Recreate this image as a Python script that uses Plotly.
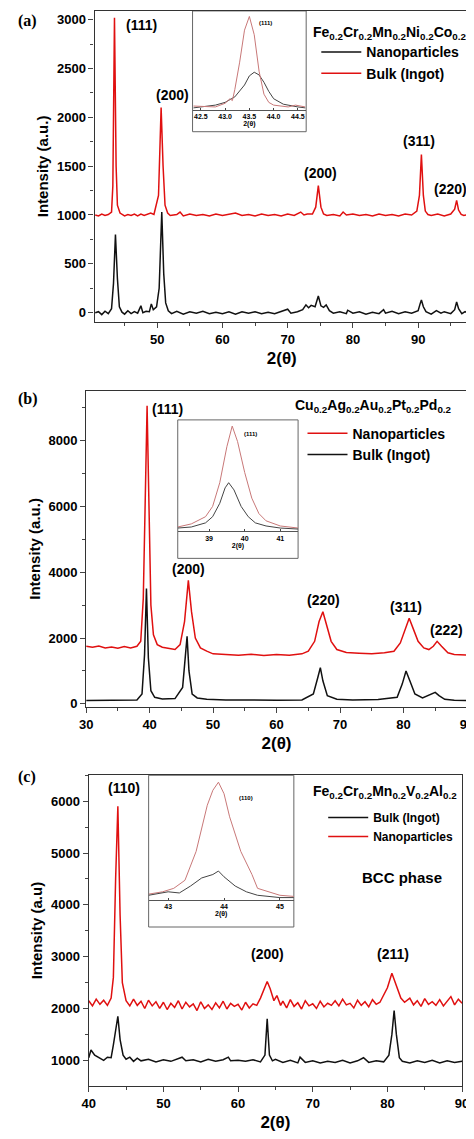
import plotly.graph_objects as go

# ---------- Panel (a) ----------
a_nano_x = [40.5,41,41.5,42,42.5,43,43.3,43.6,43.9,44.2,44.6,45,45.5,46,46.5,47,47.5,47.8,48.3,48.8,49.1,49.4,49.9,50.3,50.7,51.0,51.3,51.7,52.2,53,54,55,56,57,58,59,60,61,62,63,64,65,66,67,68,69,70,70.5,71.5,72.3,72.8,73.2,73.6,74.2,74.7,75.1,75.5,75.9,76.4,77,78,79,79.2,80,81,82,83,84,84.7,85,86,87,88,89,90,90.3,90.5,90.8,91.2,92,92.8,93.5,94,95,95.6,95.9,96.2,96.7,97.2,97.8]
a_nano_y = [0,10,-20,15,-10,40,300,800,350,60,5,-15,20,-10,10,-5,70,0,15,10,90,30,60,250,1030,400,100,20,-10,15,-15,10,-5,15,-10,5,-10,10,-15,10,-5,10,-10,5,-10,10,35,-5,10,30,80,50,75,60,170,70,55,80,20,-5,10,-10,25,-5,10,-15,5,-10,30,-5,15,-10,10,-5,20,90,130,60,10,-15,20,-5,10,-10,30,110,40,-10,10,-5]
a_bulk_x = [40.5,41,41.5,42,42.5,43,43.2,43.45,43.7,43.9,44.3,45,45.5,46,46.5,47,47.5,48,49,49.5,50.2,50.6,50.9,51.2,51.6,52,53,53.5,54,55,56,57,58,59,60,61,62,63,64,65,66,67,68,69,70,71,72,72.5,73,73.8,74.3,74.7,75.1,75.5,76,77,78,78.5,79,80,81,82,83,84,85,86,87,88,89,89.8,90.2,90.5,90.8,91.1,91.5,92,93,94,95,95.6,95.9,96.2,96.6,97,97.8]
a_bulk_y = [1000,990,1010,995,1005,1030,1300,3020,1500,1100,1020,990,1005,995,1010,990,1010,995,1020,1005,1200,2100,1500,1100,1020,995,1005,1030,990,1010,995,1005,990,1010,995,1005,1020,995,1005,990,1010,995,1005,990,1010,995,1030,1000,1010,1010,1080,1300,1080,1010,995,1005,990,1030,1000,1010,995,1005,990,1010,995,1005,990,1010,1000,1040,1200,1620,1200,1040,1005,995,1010,990,1010,1060,1150,1050,1005,995,1005]
a_ins_x_bulk = [42.35,42.8,43.0,43.1,43.15,43.2,43.3,43.4,43.5,43.6,43.7,43.8,43.9,44.0,44.3,44.45,44.65]
a_ins_y_bulk = [2,1,5,10,8,20,50,85,100,80,40,15,6,3,1,3,1]
a_ins_x_nano = [42.35,42.8,43.0,43.2,43.4,43.5,43.6,43.7,43.8,43.9,44.0,44.2,44.5,44.65]
a_ins_y_nano = [0,3,6,12,25,35,39,36,28,18,10,4,1,0]
a_peaks = ["(111)","(200)","(200)","(311)","(220)"]
a_peak_x = [47.6,52.4,75.0,90.2,94.9]
a_peak_y = [2946,2232,1425,1760,1263]

# ---------- Panel (b) ----------
b_nano_x = [30,31,32,33,34,35,36,37,38,38.6,39.0,39.3,39.6,39.9,40.2,40.6,41.2,42,43,44,44.8,45.5,46.1,46.6,47.2,48,49,50,52,54,56,58,60,62,64,65,66,66.7,67.3,67.9,68.6,69.5,71,73,75,77,78.5,79.5,80.3,80.9,81.5,82.3,83.2,84,84.7,85.3,86,87,88,89,90]
b_nano_y = [1750,1720,1760,1700,1730,1690,1740,1700,1750,1900,3200,6500,9050,6000,3000,2100,1800,1720,1680,1650,1800,2500,3750,2800,2000,1700,1600,1520,1500,1480,1510,1470,1500,1480,1520,1600,1900,2500,2800,2400,1900,1650,1560,1540,1520,1550,1600,1850,2300,2600,2300,1900,1700,1650,1750,1900,1750,1550,1500,1480,1480]
b_bulk_x = [30,32,34,36,38,38.8,39.2,39.5,39.8,40.2,40.8,42,44,45.2,45.6,45.9,46.2,46.7,47.5,49,52,56,60,64,65.8,66.5,66.9,67.3,68,69.5,72,76,79,79.8,80.4,81,81.8,83,84.5,85,85.6,86.5,88,90]
b_bulk_y = [100,110,100,110,120,300,1500,3500,1400,400,200,150,160,500,1300,2050,1000,300,180,140,120,110,110,120,300,800,1100,700,250,140,120,130,200,600,1000,700,300,180,300,350,250,140,110,100]
b_ins_x_nano = [38.12,38.5,38.9,39.1,39.3,39.5,39.65,39.8,40.0,40.2,40.4,40.6,41,41.5]
b_ins_y_nano = [2,5,12,22,45,80,100,85,55,30,15,8,3,1]
b_ins_x_bulk = [38.12,38.5,38.9,39.1,39.3,39.45,39.55,39.7,39.9,40.1,40.3,40.6,41,41.5]
b_ins_y_bulk = [1,2,6,12,25,40,45,38,22,12,6,3,1,0]
b_peaks = ["(111)","(200)","(220)","(311)","(222)"]
b_peak_x = [42.75,46.1,67.4,80.4,86.7]
b_peak_y = [8950,4100,3150,2950,2250]

# ---------- Panel (c) ----------
c_nano_x = [40,40.5,41,41.5,42,42.5,43,43.3,43.6,43.9,44.2,44.5,45,45.5,46,46.5,47,47.5,48,48.5,49,49.5,50,50.5,51,51.5,52,52.5,53,53.5,54,54.5,55,55.5,56,56.5,57,57.5,58,58.5,59,59.5,60,60.5,61,61.5,62,62.5,63,63.5,63.9,64.3,64.8,65.2,65.7,66,66.5,67,67.5,68,68.5,69,69.5,70,70.5,71,71.5,72,72.5,73,73.5,74,74.5,75,75.5,76,76.5,77,77.5,78,78.5,79,79.5,80,80.6,81.2,81.8,82.3,83,83.5,84,84.5,85,85.5,86,86.5,87,87.5,88,88.5,89,89.5,90]
c_nano_y = [2150,2050,2180,2080,2160,2060,2200,2600,4500,5900,3800,2500,2150,2050,2180,2060,2140,2000,2160,2050,2130,2000,2120,1980,2100,2020,2150,1990,2120,2030,2090,1960,2130,2000,2070,1980,2110,2010,2140,1990,2100,2040,2080,1970,2120,2010,2090,2060,2200,2380,2520,2380,2150,2250,2060,2140,2010,2170,2040,2110,1990,2150,2050,2090,2000,2140,2030,2100,2060,2150,2050,2180,2070,2100,2010,2160,2060,2130,2030,2170,2080,2120,2250,2400,2680,2450,2200,2120,2200,2070,2150,2040,2190,2080,2130,2060,2170,2050,2140,2230,2070,2180,2100]
c_bulk_x = [40,40.3,40.8,41.5,42,42.5,43,43.3,43.6,43.9,44.2,44.6,45,45.5,46,46.5,47,48,49,50,51,52,52.5,53,54,55,56,57,58,58.7,59,60,61,62,63,63.6,63.9,64.2,64.6,65,66,67,68,68.3,69,70,71,72,73,74,75,76,76.8,77.5,78.5,79.5,80.2,80.6,80.9,81.2,81.6,82,83,84,85,86,87,88,89,90]
c_bulk_y = [1050,1200,1100,1050,1000,1060,1050,1300,1600,1850,1400,1100,1020,1060,980,1040,990,1020,970,1010,980,1030,1060,990,1010,970,1020,980,1010,1060,990,1000,980,1010,970,1100,1800,1100,990,1020,960,1000,950,1060,960,990,950,980,960,1000,950,990,1050,960,990,970,1100,1500,1960,1500,1050,980,950,990,960,1000,950,990,960,980]
c_ins_x_nano = [42.65,42.9,43.1,43.3,43.5,43.7,43.8,43.9,44.0,44.1,44.3,44.5,44.6,44.8,45.0,45.25]
c_ins_y_nano = [3,5,8,15,40,80,93,100,90,70,40,20,8,5,2,1]
c_ins_x_bulk = [42.65,43.0,43.2,43.4,43.6,43.8,43.9,44.0,44.2,44.4,44.6,45,45.25]
c_ins_y_bulk = [2,5,4,10,17,20,23,18,10,5,2,0,0]
c_peaks = ["(110)","(200)","(211)"]
c_peak_x = [44.7,64.0,80.8]
c_peak_y = [6250,3050,3050]

RED = "#e01010"
BLK = "#111111"
IRED = "#c87878"
FONT = "Liberation Sans"

fig = go.Figure()
def line(x, y, color, xa, ya, name=None, legend=None, w=1.5):
    fig.add_trace(go.Scatter(x=x, y=y, mode="lines", line=dict(color=color, width=w),
                             xaxis=xa, yaxis=ya, name=name or "", showlegend=name is not None,
                             legend=legend))

line(a_nano_x, a_nano_y, BLK, "x", "y", "Nanoparticles", "legend")
line(a_bulk_x, a_bulk_y, RED, "x", "y", "Bulk (Ingot)", "legend")
line(a_ins_x_nano, a_ins_y_nano, "#444", "x2", "y2", w=1)
line(a_ins_x_bulk, a_ins_y_bulk, IRED, "x2", "y2", w=1)
line(b_nano_x, b_nano_y, RED, "x3", "y3", "Nanoparticles", "legend2")
line(b_bulk_x, b_bulk_y, BLK, "x3", "y3", "Bulk (Ingot)", "legend2")
line(b_ins_x_nano, b_ins_y_nano, IRED, "x4", "y4", w=1)
line(b_ins_x_bulk, b_ins_y_bulk, "#444", "x4", "y4", w=1)
line(c_bulk_x, c_bulk_y, BLK, "x5", "y5", "Bulk (Ingot)", "legend3")
line(c_nano_x, c_nano_y, RED, "x5", "y5", "Nanoparticles", "legend3")
line(c_ins_x_nano, c_ins_y_nano, IRED, "x6", "y6", w=1)
line(c_ins_x_bulk, c_ins_y_bulk, "#444", "x6", "y6", w=1)

tickf = dict(family=FONT, size=13, color="black", weight="bold")
def main_x(dom, rng, anchor, dtick=10, tick0=0):
    return dict(domain=dom, range=rng, anchor=anchor, showline=True, mirror=True, linecolor="#333",
                linewidth=1.2, ticks="outside", ticklen=5, dtick=dtick, tick0=tick0,
                minor=dict(ticks="outside", ticklen=3, dtick=dtick/2),
                showgrid=False, zeroline=False, tickfont=tickf,
                title=dict(text="2(θ)", font=dict(family=FONT, size=17, color="black", weight="bold"), standoff=6))
def main_y(dom, rng, anchor, dtick, title):
    return dict(domain=dom, range=rng, anchor=anchor, showline=True, mirror=True, linecolor="#333",
                linewidth=1.2, ticks="outside", ticklen=5, dtick=dtick,
                minor=dict(ticks="outside", ticklen=3, dtick=dtick/2),
                showgrid=False, zeroline=False, tickfont=tickf,
                title=dict(text=title, font=dict(family=FONT, size=15, color="black", weight="bold"), standoff=4))
insf = dict(family=FONT, size=7, color="black", weight="bold")
def ins_x(dom, rng, anchor, dtick, tick0, fmt):
    return dict(domain=dom, range=rng, anchor=anchor, showline=True, linecolor="#555", linewidth=1,
                ticks="inside", ticklen=2, dtick=dtick, tick0=tick0, tickformat=fmt, showgrid=False, zeroline=False,
                tickfont=insf, title=dict(text="2(θ)", font=insf, standoff=1))
def ins_y(dom, rng, anchor):
    return dict(domain=dom, range=rng, anchor=anchor, visible=False)

fig.update_layout(
    width=474, height=1139, margin=dict(l=0, r=0, t=0, b=0),
    paper_bgcolor="white", plot_bgcolor="rgba(0,0,0,0)",
    xaxis=main_x([0.173, 0.987], [40.4, 97.8], "y"),
    yaxis=main_y([0.7234, 0.9974], [-95, 3089], "x", 500, "Intensity (a.u.)"),
    xaxis2=ins_x([0.386, 0.633], [42.33, 44.67], "y2", 0.5, 42.5, ".1f"),
    yaxis2=ins_y([0.9104, 0.9974], [-2, 106], "x2"),
    xaxis3=main_x([0.1547, 0.9825], [30, 90], "y3"),
    yaxis3=main_y([0.3839, 0.6629], [-103, 9513], "x3", 2000, "Intensity (a.u.)"),
    xaxis4=ins_x([0.3538, 0.6154], [38.12, 41.5], "y4", 1, 39, "d"),
    yaxis4=ins_y([0.5391, 0.6371], [-2, 106], "x4"),
    xaxis5=main_x([0.1603, 0.9719], [40, 90], "y5"),
    yaxis5=main_y([0.0503, 0.3240], [506, 6500], "x5", 1000, "Intensity (a.u)"),
    xaxis6=ins_x([0.2905, 0.6062], [42.65, 45.25], "y6", 1, 43, "d"),
    yaxis6=ins_y([0.2142, 0.3240], [-2, 106], "x6"),
)
legf = dict(family=FONT, size=14, color="black", weight="bold")
fig.update_layout(
    legend=dict(x=0.655, y=0.975, xanchor="left", yanchor="top", font=legf, bgcolor="rgba(0,0,0,0)", itemwidth=40),
    legend2=dict(x=0.625, y=0.639, xanchor="left", yanchor="top", font=legf, bgcolor="rgba(0,0,0,0)", itemwidth=40),
    legend3=dict(x=0.67, y=0.2995, xanchor="left", yanchor="top", font=dict(family=FONT, size=12, color="black", weight="bold"), bgcolor="rgba(0,0,0,0)", itemwidth=40),
)

shapes = []
for (x0, x1, y0, y1) in [(0.386, 0.633, 0.891, 0.9974), (0.3538, 0.6154, 0.5151, 0.6371), (0.2905, 0.6062, 0.1903, 0.3240)]:
    shapes.append(dict(type="rect", xref="paper", yref="paper", x0=x0, x1=x1, y0=y0, y1=y1,
                       line=dict(color="#666", width=1), fillcolor="white", layer="below"))
fig.update_layout(shapes=shapes)

ann = []
pf = dict(family=FONT, size=14, color="black", weight="bold")
for t, x, y in zip(a_peaks, a_peak_x, a_peak_y):
    ann.append(dict(text=t, x=x, y=y, xref="x", yref="y", showarrow=False, font=pf))
for t, x, y in zip(b_peaks, b_peak_x, b_peak_y):
    ann.append(dict(text=t, x=x, y=y, xref="x3", yref="y3", showarrow=False, font=pf))
for t, x, y in zip(c_peaks, c_peak_x, c_peak_y):
    ann.append(dict(text=t, x=x, y=y, xref="x5", yref="y5", showarrow=False, font=pf))
sf = dict(family=FONT, size=6, color="black", weight="bold")
ann += [
    dict(text="(111)", x=43.83, y=93, xref="x2", yref="y2", showarrow=False, font=sf),
    dict(text="(111)", x=40.15, y=92, xref="x4", yref="y4", showarrow=False, font=sf),
    dict(text="(110)", x=44.4, y=86, xref="x6", yref="y6", showarrow=False, font=sf),
]
cf = dict(family=FONT, size=14, color="black", weight="bold")
ann += [
    dict(text="Fe<sub>0.2</sub>Cr<sub>0.2</sub>Mn<sub>0.2</sub>Ni<sub>0.2</sub>Co<sub>0.2</sub>", x=0.985, y=0.988, xref="paper", yref="paper", xanchor="right", yanchor="top", showarrow=False, font=cf),
    dict(text="Cu<sub>0.2</sub>Ag<sub>0.2</sub>Au<sub>0.2</sub>Pt<sub>0.2</sub>Pd<sub>0.2</sub>", x=0.955, y=0.659, xref="paper", yref="paper", xanchor="right", yanchor="top", showarrow=False, font=cf),
    dict(text="Fe<sub>0.2</sub>Cr<sub>0.2</sub>Mn<sub>0.2</sub>V<sub>0.2</sub>Al<sub>0.2</sub>", x=0.965, y=0.319, xref="paper", yref="paper", xanchor="right", yanchor="top", showarrow=False, font=cf),
    dict(text="BCC phase", x=0.75, y=0.2335, xref="paper", yref="paper", xanchor="left", yanchor="middle", showarrow=False, font=dict(family=FONT, size=15, color="black", weight="bold")),
]
lf = dict(family="Liberation Serif", size=16, color="black", weight="bold")
for t, y in [("(a)", 0.9985), ("(b)", 0.6655), ("(c)", 0.332)]:
    ann.append(dict(text=t, x=0.003, y=y, xref="paper", yref="paper", xanchor="left", yanchor="top", showarrow=False, font=lf))
fig.update_layout(annotations=ann)

fig.write_html("out.html")
